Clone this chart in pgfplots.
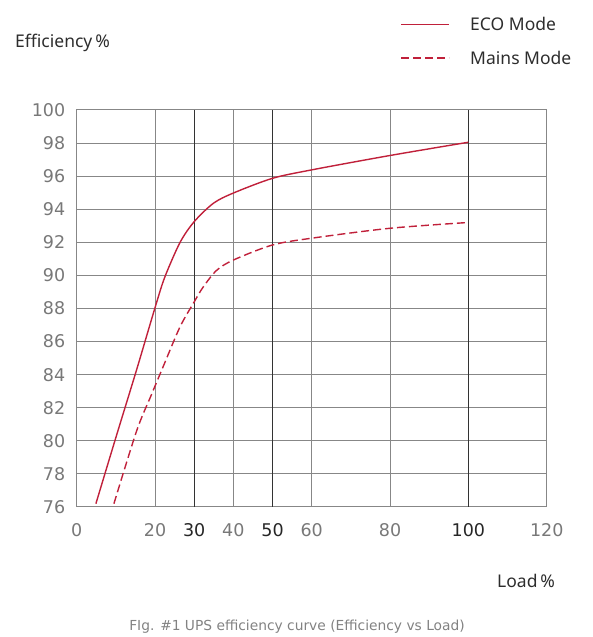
\documentclass[border=0pt]{standalone}
\usepackage{fontspec}
\setmainfont{Noto Sans}
\newfontfamily\tickfont{DejaVu Sans}
\usepackage{pgfplots}
\pgfplotsset{compat=1.18}
\definecolor{curvered}{RGB}{192,32,58}
\definecolor{gridgrey}{RGB}{135,135,135}
\definecolor{ticktxt}{RGB}{120,120,120}
\definecolor{labeltxt}{RGB}{45,45,45}
\definecolor{captxt}{RGB}{130,130,130}

\begin{document}
\begin{tikzpicture}
\useasboundingbox (0pt,0pt) rectangle (592pt,637pt);
\begin{axis}[
    at={(76.7pt,130pt)}, anchor=south west,
    width=470pt, height=397pt, scale only axis,
    xmin=0, xmax=120, ymin=76, ymax=100,
    xtick={0,20,40,60,80,120},
    extra x ticks={30,50,100},
    extra x tick style={grid style={line width=1.1pt, color=black!80},
        tick label style={text=black!85}},
    ytick={76,78,...,100},
    grid=major,
    grid style={line width=1pt, color=gridgrey},
    axis line style={line width=1pt, color=gridgrey},
    major tick length=0pt,
    /pgf/number format/assume math mode=true,
    tick label style={font=\tickfont\fontsize{17.5}{19}\selectfont, text=ticktxt},
    xticklabel style={yshift=-13pt},
    yticklabel style={xshift=-8pt},
    legend style={draw=none, fill=none, at={(0.689,1.24)}, anchor=north west,
        font=\fontsize{17.5}{19}\selectfont, text=labeltxt,
        row sep=15pt, inner sep=0pt},
    legend cell align=left,
    legend image code/.code={\draw[#1, line width=1.5pt] (0pt,0pt) -- (48pt,0pt);},
    every axis legend/.append style={/tikz/every odd column/.append style={column sep=18pt}},
]
\addplot[curvered, line width=1.4pt, smooth, tension=0.5] coordinates {
    (4.9,76.2) (10,80.2) (15.3,84.3) (20,88.05) (22.5,89.9) (26.4,92.0)
    (30,93.25) (34.9,94.36) (40,94.98) (50,95.87) (60,96.38) (80,97.25) (100,98.05)
};
\addlegendentry{ECO Mode}
\addplot[curvered, line width=1.4pt, smooth, tension=0.5, dash pattern=on 8pt off 4pt] coordinates {
    (9.5,76.2) (15.3,80.6) (19.1,82.8) (22.1,84.5) (26.4,86.9) (30,88.4)
    (32.3,89.3) (35.7,90.3) (40,90.93) (50,91.84) (60,92.25) (80,92.85) (100,93.2)
};
\addlegendentry{Mains Mode}
\end{axis}
\node[anchor=west, text=labeltxt, font=\fontsize{17.5}{19}\selectfont, inner sep=0pt] at (15pt,594pt) {Efficiency\,\%};
\node[anchor=west, text=labeltxt, font=\fontsize{17.5}{19}\selectfont, inner sep=0pt] at (497pt,56pt) {Load\,\%};
\node[text=captxt, font=\tickfont\fontsize{13.8}{15}\selectfont, inner sep=0pt] at (297pt,10pt) {FIg. \#1 UPS efficiency curve (Efficiency vs Load)};
\end{tikzpicture}
\end{document}
